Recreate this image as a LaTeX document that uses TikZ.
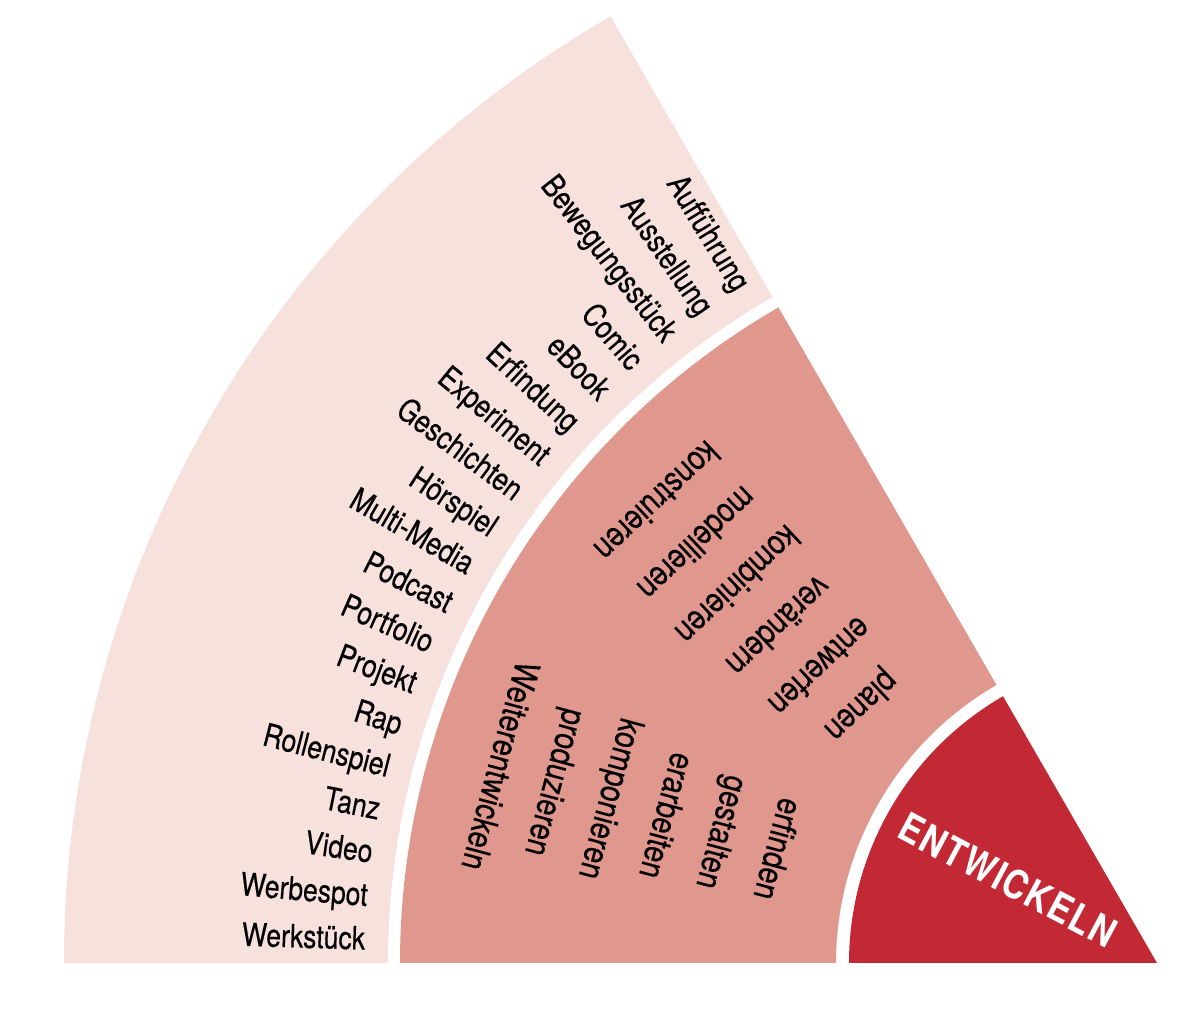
\documentclass[tikz,border=0pt]{standalone}
\usepackage{fontspec}
\setmainfont{TeX Gyre Heros}[FakeStretch=0.83,FakeBold=0.4]
\newfontfamily\entfont{TeX Gyre Heros}[FakeStretch=0.84,LetterSpace=4]
\definecolor{ringouter}{HTML}{F6E1DD}
\definecolor{ringmid}{HTML}{E0988E}
\definecolor{ringinner}{HTML}{C32835}
\begin{document}
\begin{tikzpicture}[x=1pt,y=1pt,
  outerlbl/.style={anchor=east, inner sep=0pt, text height=23pt, text depth=0pt, font=\fontsize{32}{36}\selectfont},
  midlbl/.style={anchor=center, inner sep=0pt, text height=25pt, text depth=0pt, font=\fontsize{34.5}{38}\selectfont},
  corelbl/.style={anchor=center, inner sep=0pt, text=white, font=\entfont\bfseries\fontsize{40}{44}\selectfont}
]
\useasboundingbox (0,0) rectangle (1178,1027);
\fill[white] (0,0) rectangle (1178,1027);
\begin{scope}[shift={(1157,64)}]
  \fill[ringouter] (180:1093pt) arc[start angle=180,end angle=120,radius=1093pt]
    -- (120:769pt) arc[start angle=120,end angle=180,radius=769pt] -- cycle;
  \fill[ringmid] (180:757pt) arc[start angle=180,end angle=120,radius=757pt]
    -- (120:321pt) arc[start angle=120,end angle=180,radius=321pt] -- cycle;
  \fill[ringinner] (0,0) -- (180:308pt) arc[start angle=180,end angle=120,radius=308pt] -- cycle;

  \foreach \name [count=\i from 0] in {Aufführung,Ausstellung,Bewegungsstück,Comic,eBook,Erfindung,Experiment,Geschichten,Hörspiel,Multi-Media,Podcast,Portfolio,Projekt,Rap,Rollenspiel,Tanz,Video,Werbespot,Werkstück}{
    \pgfmathsetmacro\ang{121.5+3.15*\i}
    \node[outerlbl, rotate=\ang-180] (out\i) at (\ang:792pt) {\name};
  }

  \foreach \name [count=\i from 0] in {konstruieren,modellieren,kombinieren,verändern,entwerfen,planen}{
    \pgfmathsetmacro\rad{680-58*\i}
    \pgfmathsetmacro\ang{137.3+0.35*\i}
    \node[midlbl, rotate=-136.7] (up\i) at (\ang:\rad pt) {\name};
  }

  \foreach \name [count=\i from 0] in {Weiterentwickeln,produzieren,komponieren,erarbeiten,gestalten,erfinden}{
    \pgfmathsetmacro\rad{685-58*\i}
    \node[midlbl, rotate=-105] (low\i) at (163.3:\rad pt) {\name};
  }

  \node[corelbl, rotate=-28] (core) at (150.9:170.6pt) {ENTWICKELN};
\end{scope}
\end{tikzpicture}
\end{document}
